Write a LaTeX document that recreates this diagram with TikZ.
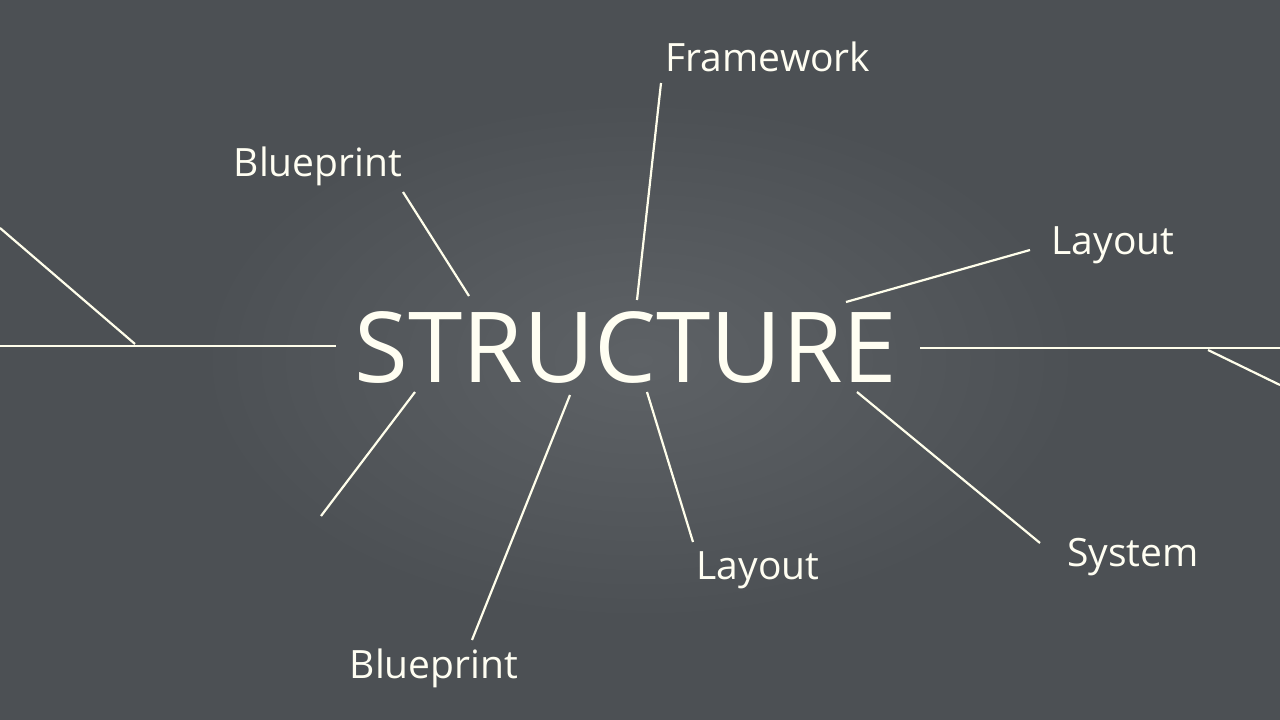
\documentclass[tikz,border=0pt]{standalone}
\usepackage{fontspec}
\setmainfont{Open Sans}
\definecolor{bg}{HTML}{4C5054}
\definecolor{bgc}{HTML}{5E6266}
\begin{document}
\begin{tikzpicture}[x=1pt,y=-1pt,
 lbl/.style={text=white!95!yellow,font=\fontsize{39}{42}\selectfont,inner sep=0pt},
 ln/.style={draw=white!92!yellow,line width=2.2pt}]
\fill[bg] (0,0) rectangle (1280,720);
\shade[inner color=bgc,outer color=bg] (200,100) rectangle (1080,620);
\useasboundingbox (0,0) rectangle (1280,720);
\node[lbl,font=\fontsize{98}{100}\selectfont] (s) at (626,347) {STRUCTURE};
\node[lbl] (fw) at (768,57) {Framework};
\node[lbl] (bp1) at (318,166) {Blueprint};
\node[lbl] (ly1) at (1113,245) {Layout};
\node[lbl] (ly2) at (758,570) {Layout};
\node[lbl] (bp2) at (434,668) {Blueprint};
\node[lbl] (sy) at (1133,557) {System};
\foreach \n/\a/\b/\c/\d in {a/661/83/637/300, b/403/192/469/296, c/1030/250/846/302,
 d/920/348/1280/348, e/1208/350/1280/385, f/0/346/336/346, g/0/228/135/344,
 h/415/392/321/516, i/570/395/472/640, j/647/392/693/542, k/857/392/1040/543}{
 \coordinate (\n1) at (\a,\b); \coordinate (\n2) at (\c,\d);
 \draw[ln] (\n1) -- (\n2);}
\end{tikzpicture}
\end{document}
